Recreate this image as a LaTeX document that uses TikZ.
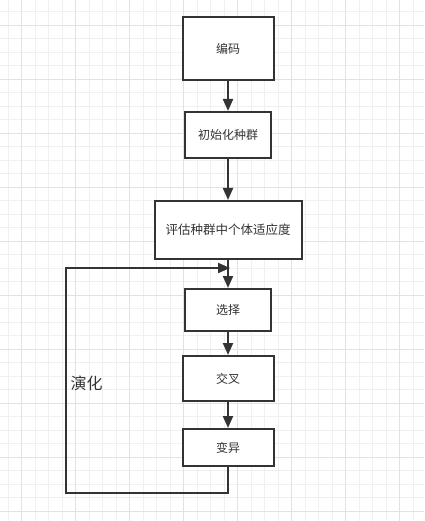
\documentclass[tikz,border=0pt]{standalone}
\usepackage{fontspec}
\newfontfamily\cjk{Noto Sans CJK SC}
\usetikzlibrary{arrows.meta}
\definecolor{ink}{HTML}{333333}
\definecolor{gridminor}{HTML}{F0F0F0}
\definecolor{gridmajor}{HTML}{E2E2E2}
\begin{document}
\begin{tikzpicture}[x=1pt,y=-1pt,
  box/.style={draw=ink,line width=2pt,fill=white,inner sep=0pt,text=ink,font=\cjk\fontsize{12}{14}\selectfont},
  tip/.style={-{Triangle[length=12pt,width=10pt]}},
  conn/.style={draw=ink,line width=2pt,tip},
  loopline/.style={draw=ink,line width=2pt}]
\useasboundingbox (0,0) rectangle (424,521);
\fill[white] (0,0) rectangle (424,521);
% grid
\foreach \i in {0,...,31} {
  \draw[gridminor,line width=0.8pt] ({8.2+13.5*\i},0) -- ({8.2+13.5*\i},521);
}
\foreach \i in {0,...,38} {
  \draw[gridminor,line width=0.8pt] (0,{11.5+13.5*\i}) -- (424,{11.5+13.5*\i});
}
\foreach \i in {0,...,7} {
  \draw[gridmajor,line width=0.9pt] ({21.7+54*\i},0) -- ({21.7+54*\i},521);
}
\foreach \i in {0,...,9} {
  \draw[gridmajor,line width=0.9pt] (0,{25+54*\i}) -- (424,{25+54*\i});
}
% boxes
\node[box,minimum width=91pt,minimum height=63pt] (b1) at (228,48.5) {编码};
\node[box,minimum width=86pt,minimum height=46pt] (b2) at (228,135) {初始化种群};
\node[box,minimum width=147pt,minimum height=58pt,font=\cjk\fontsize{12.5}{14}\selectfont] (b3) at (228,230) {评估种群中个体适应度};
\node[box,minimum width=86pt,minimum height=42pt] (b4) at (228,310) {选择};
\node[box,minimum width=91pt,minimum height=45pt] (b5) at (228,378.5) {交叉};
\node[box,minimum width=91pt,minimum height=37pt] (b6) at (228,447.5) {变异};
% connectors
\draw[conn] (b1) -- (b2);
\draw[conn] (b2) -- (b3);
\draw[conn] (b3) -- (b4);
\draw[conn] (b4) -- (b5);
\draw[conn] (b5) -- (b6);
\coordinate (c1) at (228,493);
\coordinate (c2) at (66,493);
\coordinate (c3) at (66,268);
\coordinate (m) at (230,268);
\draw[loopline,line join=miter,tip] (b6.south) -- (c1) -- (c2) -- (c3) -- (m);
\node[text=ink,font=\cjk\fontsize{16}{18}\selectfont] (lbl) at (86.5,383) {演化};
\end{tikzpicture}
\end{document}
